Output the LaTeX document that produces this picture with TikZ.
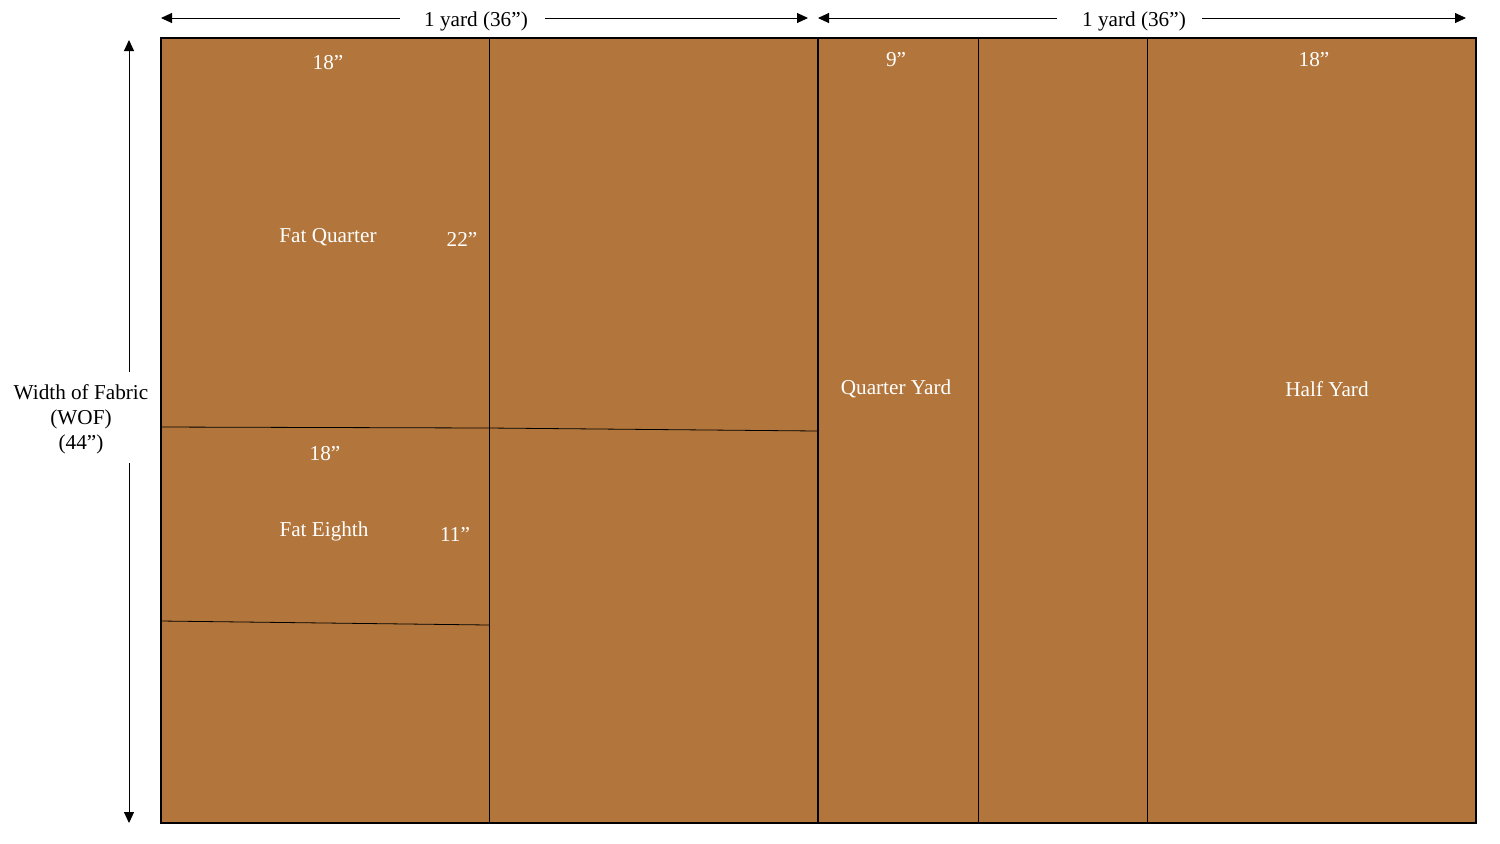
\documentclass[tikz,border=0pt]{standalone}
\usepackage{fontspec}
\setmainfont{Liberation Serif}
\usetikzlibrary{arrows.meta}
\definecolor{fabric}{RGB}{178,118,60}
\tikzset{
  lbl/.style={text=white,font=\fontsize{10.6}{12}\selectfont,inner sep=0pt},
  dim/.style={text=black,font=\fontsize{10.6}{12}\selectfont,inner sep=0pt,align=center},
  seam/.style={draw=black,line width=0.4pt},
  arr/.style={draw=black,line width=0.5pt,-{Triangle[length=5.5pt,width=5pt]}}
}
\begin{document}
\begin{tikzpicture}[x=0.5pt,y=-0.5pt]
\useasboundingbox (0,0) rectangle (1500,843);
% fabric
\fill[fabric] (161,38) rectangle (1476,823);
% seams
\draw[seam] (489,38) -- (489,823);
\draw[seam] (978,38) -- (978,823);
\draw[seam] (1147,38) -- (1147,823);
\draw[seam] (161,427) -- (489,428) -- (818,431);
\draw[seam] (161,621) -- (489,625);
\draw[line width=1pt] (818,38) -- (818,823);
\draw[line width=1pt] (161,38) rectangle (1476,823);
% labels in fabric
\node[lbl] (fq18) at (328,63) {18”};
\node[lbl] (fq) at (328,237) {Fat Quarter};
\node[lbl] (fq22) at (462,239) {22”};
\node[lbl] (fe18) at (325,454) {18”};
\node[lbl] (fe) at (324,531) {Fat Eighth};
\node[lbl] (fe11) at (455,534) {11”};
\node[lbl] (qy9) at (896,60) {9”};
\node[lbl] (qy) at (896,389) {Quarter Yard};
\node[lbl] (hy18) at (1314,60) {18”};
\node[lbl] (hy) at (1327,389) {Half Yard};
% top dimensions
\node[dim] (y1) at (476,21) {1 yard (36”)};
\node[dim] (y2) at (1134,21) {1 yard (36”)};
\coordinate (a1) at (161,18);
\coordinate (a2) at (808,18);
\coordinate (b1) at (818,18);
\coordinate (b2) at (1466,18);
\draw[arr] (400,18) coordinate (a1s) -- (a1);
\draw[arr] (545,18) coordinate (a2s) -- (a2);
\draw[arr] (1057,18) coordinate (b1s) -- (b1);
\draw[arr] (1202,18) coordinate (b2s) -- (b2);
% side dimension
\node[dim,font=\fontsize{10.6}{12.5}\selectfont] (wof) at (81,419) {Width of Fabric\\(WOF)\\(44”)};
\coordinate (c1) at (129,40);
\coordinate (c2) at (129,823);
\draw[arr] (129,372) coordinate (c1s) -- (c1);
\draw[arr] (129,463) coordinate (c2s) -- (c2);
\end{tikzpicture}
\end{document}
